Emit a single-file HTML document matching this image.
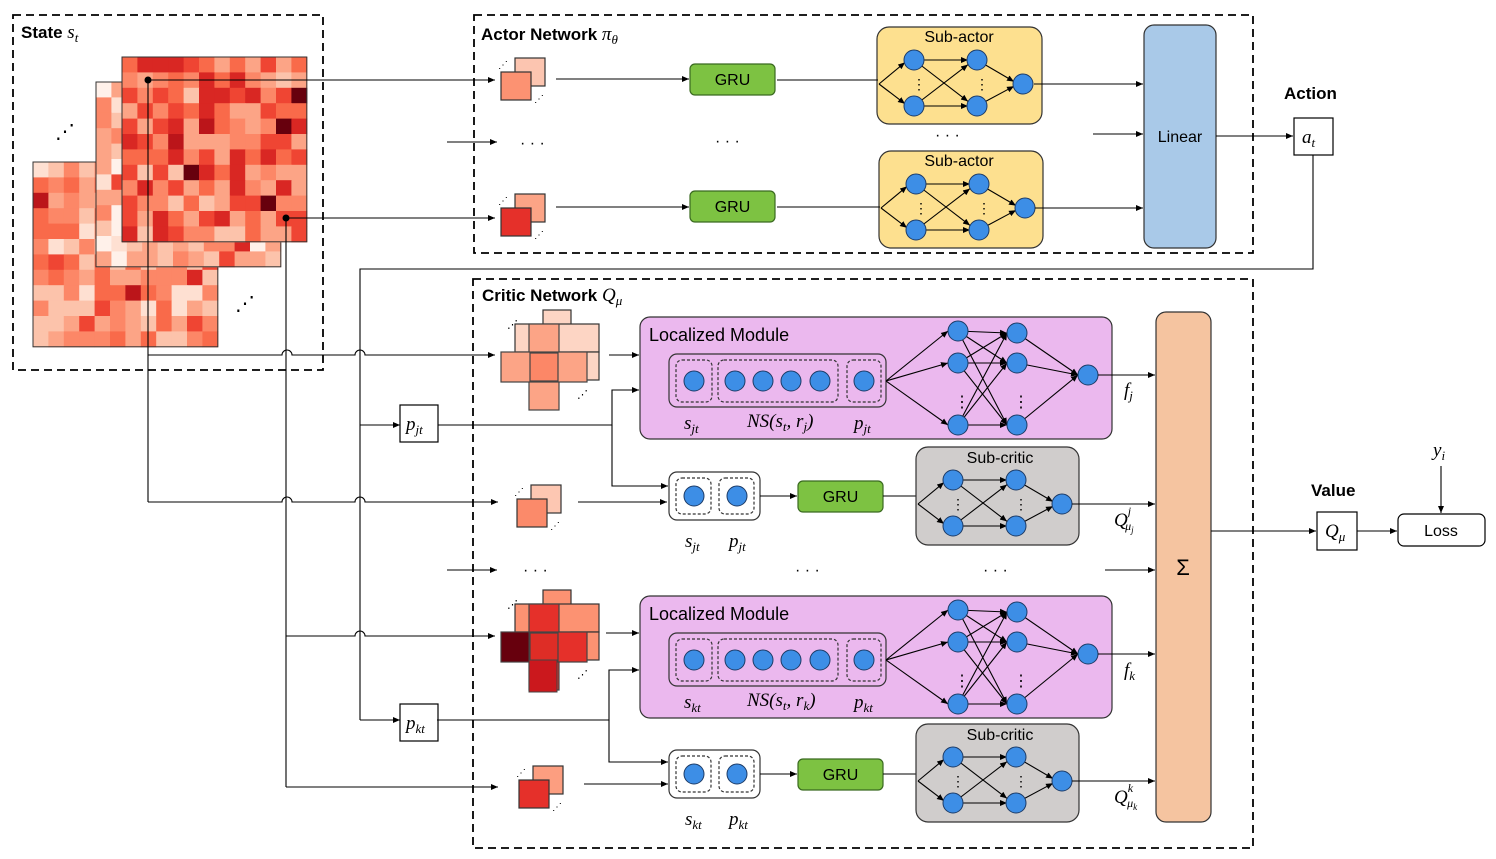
<!DOCTYPE html>
<html><head><meta charset="utf-8"><style>
html,body{margin:0;padding:0;background:#fff}
svg{display:block}
text{font-family:"Liberation Sans",sans-serif;fill:#000}
.m{font-family:"Liberation Serif",serif;font-style:italic}
</style></head><body>
<svg id="s" width="1496" height="859" viewBox="0 0 1496 859" xmlns="http://www.w3.org/2000/svg">
<defs><marker id="a" markerWidth="8" markerHeight="8" refX="7" refY="4" orient="auto" markerUnits="userSpaceOnUse"><path d="M0,1 L7,4 L0,7 z" fill="#000"/></marker></defs>
<g id="g"></g>
</svg>
<script>
const g=document.getElementById('g');let h='';
function add(s){h+=s;}
function L(x1,y1,x2,y2,ar){add(`<line x1="${x1}" y1="${y1}" x2="${x2}" y2="${y2}" stroke="#000" stroke-width="1.1" ${ar?'marker-end="url(#a)"':''}/>`);}
function P(d,ar){add(`<path d="${d}" fill="none" stroke="#000" stroke-width="1.1" ${ar?'marker-end="url(#a)"':''}/>`);}
function R(x,y,w,hh,f,rx,st,dash){add(`<rect x="${x}" y="${y}" width="${w}" height="${hh}" rx="${rx||0}" fill="${f}" stroke="${st||'#000'}" stroke-width="${dash&&dash.length>4?1.8:1.2}" ${dash?'stroke-dasharray="'+dash+'"':''}/>`);}
function T(x,y,s,sz,extra){add(`<text x="${x}" y="${y}" font-size="${sz||16}" ${extra||''}>${s}</text>`);}
function C(x,y,r){add(`<circle cx="${x}" cy="${y}" r="${r||10}" fill="#3d8ee6" stroke="#1d3b66" stroke-width="1"/>`);}
let seed=7;function rnd(){seed=(seed*16807)%2147483647;return seed/2147483647;}
const pal=['#fff1ea','#fee0d2','#fcc3ab','#fca486','#fc8767','#f96a4a','#ef4533','#d92723','#bb151a','#67000d'];
function heat(x,y,n,cs,bias){for(let i=0;i<n;i++)for(let j=0;j<n;j++){let v=Math.min(9,Math.max(0,Math.floor(rnd()*5+bias+(rnd()<0.06?3:0))));add(`<rect x="${x+j*cs}" y="${y+i*cs}" width="${cs+0.5}" height="${cs+0.5}" fill="${pal[v]}"/>`);}add(`<rect x="${x}" y="${y}" width="${n*cs}" height="${n*cs}" fill="none" stroke="#333" stroke-width="1"/>`);}
// State
R(13,15,310,355,'none','#000',0,'8,5,8,5');
T(21,38,'<tspan font-weight="bold">State </tspan><tspan class="m" font-size="19">s</tspan><tspan class="m" font-size="13" dy="4">t</tspan>',17);
heat(33,162,12,15.4,1.2);heat(96,82,12,15.4,-0.3);heat(122,57,12,15.4,2.8);
T(55,138,'⋰',20);T(235,310,'⋰',20);
add(`<circle cx="148" cy="80" r="3.5"/><circle cx="286" cy="218" r="3.5"/>`);
L(148,80,495,80,1);L(286,218,495,218,1);
P('M148,80 V502');P('M286,218 V787');
P('M148,355 H282 a5,5 0 0 1 10,0 H355 a5,5 0 0 1 10,0 H495',1);
P('M148,502 H282 a5,5 0 0 1 10,0 H355 a5,5 0 0 1 10,0 H498',1);
P('M286,636 H355 a5,5 0 0 1 10,0 H495',1);
L(286,787,498,787,1);
P('M1313,155 V269 H360 V720');
L(360,425,400,425,1);L(360,720,400,720,1);
// Actor
R(474,15,779,238,'none','#000',0,'8,5,8,5');
T(481,40,'<tspan font-weight="bold">Actor Network </tspan><tspan class="m" font-size="19">π</tspan><tspan class="m" font-size="13" dy="4">θ</tspan>',17);
function pair(x,y,c1,c2){R(x+14,y,30,28,c2,0,'#333');R(x,y+14,30,28,c1,0,'#333');T(x-3,y+10,'⋰',10);T(x+33,y+44,'⋰',10);}
pair(501,58,'#fc9272','#fcc5b0');pair(501,194,'#e5302a','#fca486');
function gru(x,y){R(x,y,85,31,'#7dc242',5,'#3a6a20');T(x+42.5,y+21,'GRU',16,'text-anchor="middle"');}
L(556,79,689,79,1);L(556,207,689,207,1);gru(690,64);gru(690,191);
T(520,148,'·  ·  ·',16);T(715,146,'·  ·  ·',16);T(935,140,'·  ·  ·',16);
L(447,142,497,142,1);
function net4(x,y){
 let a=[x+37,y+33],b=[x+37,y+79],c=[x+100,y+33],d=[x+100,y+79],o=[x+146,y+57];let i=[x+2,y+57];
 [[i,a],[i,b],[a,c],[a,d],[b,c],[b,d],[c,o],[d,o]].forEach(e=>L(e[0][0],e[0][1],e[1][0]-9,e[1][1]+(e[0][1]-e[1][1])*0.1,1));
 [a,b,c,d,o].forEach(p=>C(p[0],p[1],10));
 T(a[0]-2,y+62,'⋮',14);T(c[0]-2,y+62,'⋮',14);return o;}
R(877,27,165,97,'#fde08f',12,'#333');T(959,42,'Sub-actor',16,'text-anchor="middle"');L(777,80,878,80);net4(877,27);
R(879,151,164,97,'#fde08f',12,'#333');T(959,166,'Sub-actor',16,'text-anchor="middle"');L(777,207,880,207);net4(879,151);
L(1034,84,1143,84,1);L(1035,208,1143,208,1);L(1093,134,1143,134,1);
R(1144,25,72,223,'#a9c9e8',10,'#333');T(1180,142,'Linear',16,'text-anchor="middle"');
L(1216,136,1293,136,1);
T(1284,99,'Action',17,'font-weight="bold"');
R(1294,118,39,37,'#fff',0,'#000');T(1302,143,'<tspan class="m" font-size="19">a</tspan><tspan class="m" font-size="13" dy="4">t</tspan>');
// Critic
R(473,279,780,569,'none','#000',0,'8,5,8,5');
T(482,301,'<tspan font-weight="bold">Critic Network </tspan><tspan class="m" font-size="19">Q</tspan><tspan class="m" font-size="13" dy="4">μ</tspan>',17);
function cross(x,y,c1,c2,c3){
 R(x+42,y,28,30,c2,0,'#333');R(x+14,y+14,84,28,c2,0,'#333');R(x+70,y+42,28,28,c2,0,'#333');
 R(x+28,y+14,30,86,c1,0,'#444');R(x,y+42,86,30,c1,0,'#444');R(x+29,y+43,28,28,c3,0,'#444');
 T(x+6,y+18,'⋰',11);T(x+76,y+88,'⋰',11);}
cross(501,310,'#fca486','#fdd5c4','#fc8767');
cross(501,590,'#e5302a','#fc9272','#de2d26');
add(`<rect x="501" y="632" width="28" height="30" fill="#67000d" stroke="#444"/><rect x="529" y="660" width="28" height="32" fill="#cb181d" stroke="#444"/>`);
pair(517,485,'#fb8a6a','#fdc7b2');pair(519,766,'#e5302a','#fc9e80');
function pbox(x,y,sub){R(x,y,38,37,'#fff',0,'#000');T(x+6,y+25,`<tspan class="m" font-size="19">p</tspan><tspan class="m" font-size="13" dy="4">${sub}</tspan>`);}
pbox(400,405,'jt');pbox(400,704,'kt');
function loc(y,sub,nsr){
 R(640,y,472,122,'#ebb8ee',10,'#333');T(649,y+24,'Localized Module',18);
 R(669,y+37,217,53,'#ebb8ee',8,'#333');
 R(676,y+43,36,42,'none',6,'#333','3,2');R(718,y+43,120,42,'none',6,'#333','3,2');R(847,y+43,34,42,'none',6,'#333','3,2');
 [694,735,763,791,820,864].forEach(x=>C(x,y+64,10));
 T(684,y+112,`<tspan class="m" font-size="19">s</tspan><tspan class="m" font-size="13" dy="4">${sub}</tspan>`);
 T(747,y+110,`<tspan class="m" font-size="19">NS(s</tspan><tspan class="m" font-size="13" dy="4">t</tspan><tspan class="m" font-size="19" dy="-4">, r</tspan><tspan class="m" font-size="13" dy="4">${nsr}</tspan><tspan class="m" font-size="19" dy="-4">)</tspan>`);
 T(854,y+112,`<tspan class="m" font-size="19">p</tspan><tspan class="m" font-size="13" dy="4">${sub}</tspan>`);
 let A=[[958,y+14],[958,y+46],[958,y+108]],B=[[1017,y+16],[1017,y+46],[1017,y+108]],o=[1088,y+58];
 A.forEach(p=>L(886,y+64,p[0]-10,p[1],1));
 A.forEach(p=>B.forEach(q=>L(p[0],p[1],q[0]-10,q[1],1)));B.forEach(q=>L(q[0],q[1],o[0]-10,o[1],1));
 A.concat(B).concat([o]).forEach(p=>C(p[0],p[1],10));T(954,y+90,'⋮',16);T(1013,y+90,'⋮',16);
 L(1098,o[1],1155,o[1],1);
}
loc(317,'jt','j');loc(596,'kt','k');
T(1124,396,'<tspan class="m" font-size="19">f</tspan><tspan class="m" font-size="13" dy="4">j</tspan>');
T(1124,676,'<tspan class="m" font-size="19">f</tspan><tspan class="m" font-size="13" dy="4">k</tspan>');
function sc(y,py,sub,sup){
 R(669,py,91,48,'#fff',8,'#333');R(676,py+6,35,36,'none',6,'#333','3,2');R(719,py+6,35,36,'none',6,'#333','3,2');
 C(694,py+24,10);C(737,py+24,10);
 T(685,py+75,`<tspan class="m" font-size="19">s</tspan><tspan class="m" font-size="13" dy="4">${sub}</tspan>`);
 T(729,py+75,`<tspan class="m" font-size="19">p</tspan><tspan class="m" font-size="13" dy="4">${sub}</tspan>`);
 L(760,py+24,797,py+24,1);gru(798,py+9);L(883,py+24,918,py+24);
 R(916,y,163,98,'#d0cdcc',12,'#333');T(1000,y+16,'Sub-critic',16,'text-anchor="middle"');
 let o=net4(916,y);L(o[0]+10,o[1],1155,o[1],1);
 T(1114,o[1]+22,`<tspan class="m" font-size="19">Q</tspan><tspan class="m" font-size="12" dy="-11">${sup}</tspan><tspan class="m" font-size="12" dx="-6" dy="15">μ</tspan><tspan class="m" font-size="9" dy="3">${sup}</tspan>`);
}
sc(447,472,'jt','j');sc(724,750,'kt','k');
P('M438,425 H612 V390 H639',1);P('M612,425 V486 H668',1);
P('M437,720 H609 V670 H639',1);P('M609,720 V762 H668',1);
L(609,355,639,355,1);L(606,633,639,633,1);
L(578,502,667,502,1);L(584,784,668,784,1);
L(447,570,497,570,1);T(523,575,'·  ·  ·',16);T(795,575,'·  ·  ·',16);T(983,575,'·  ·  ·',16);L(1105,570,1155,570,1);
R(1156,312,55,510,'#f5c4a0',10,'#333');T(1183,575,'Σ',22,'text-anchor="middle"');
L(1211,531,1316,531,1);
T(1311,496,'Value',17,'font-weight="bold"');
R(1317,512,40,38,'#fff',0,'#000');T(1325,537,'<tspan class="m" font-size="19">Q</tspan><tspan class="m" font-size="13" dy="4">μ</tspan>');
L(1357,531,1397,531,1);
R(1398,514,87,32,'#fff',6,'#000');T(1441,536,'Loss',16,'text-anchor="middle"');
T(1433,456,'<tspan class="m" font-size="19">y</tspan><tspan class="m" font-size="13" dy="4">i</tspan>');
L(1441,466,1441,513,1);
g.innerHTML=h;
</script>
</body></html>
